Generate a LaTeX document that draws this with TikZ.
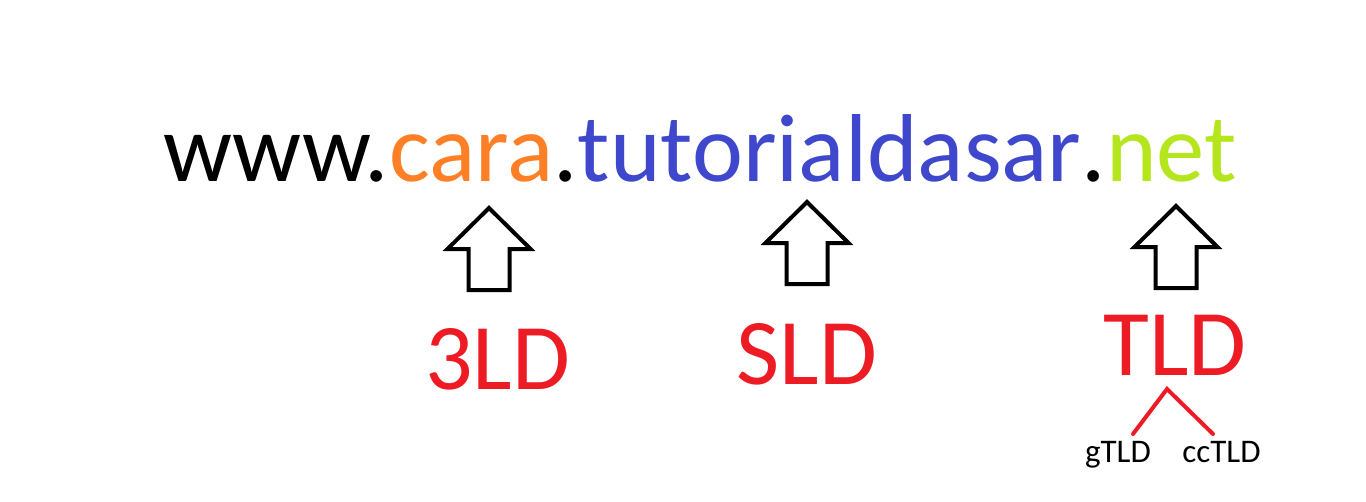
\documentclass[tikz,border=0pt]{standalone}
\usepackage{fontspec}
\setmainfont{Carlito}
\definecolor{pOrange}{HTML}{FF7F27}
\definecolor{pBlue}{HTML}{3F48CC}
\definecolor{pLime}{HTML}{B5E61D}
\definecolor{pRed}{HTML}{ED1C24}
\tikzset{
  url/.style={inner sep=0pt, anchor=base, font=\fontsize{96.5}{96.5}\selectfont},
  lvl/.style={inner sep=0pt, anchor=base, text=pRed, font=\fontsize{94}{94}\selectfont},
  sub/.style={inner sep=0pt, anchor=base, text=black, font=\fontsize{33}{33}\selectfont},
  blockarrow/.style={draw=black, line width=4pt, line join=miter, fill=white},
  branch/.style={draw=pRed, line width=4pt, line cap=round},
  pics/uparrow/.style={code={
    \draw[blockarrow] (0,0) -- (41.5,41) -- (20.5,41) -- (20.5,82) -- (-20.5,82)
      -- (-20.5,41) -- (-41.5,41) -- cycle;
  }}
}
\begin{document}
\begin{tikzpicture}[x=1pt,y=-1pt]
\useasboundingbox (0,0) rectangle (1366,501);
\node[url] (address) at (700,181) {www.\textcolor{pOrange}{cara}.\textcolor{pBlue}{tutorialdasar}.\textcolor{pLime}{net}};
\pic (a1) at (489,208) {uparrow};
\pic (a2) at (807,202) {uparrow};
\pic (a3) at (1176,206) {uparrow};
\node[lvl] (third) at (497.5,389) {3LD};
\node[lvl] (second) at (807,384) {SLD};
\node[lvl] (top) at (1175,375) {TLD};
\node[sub] (gtld) at (1118,462) {gTLD};
\node[sub] (cctld) at (1221.5,462) {ccTLD};
\coordinate (apex) at (1167,389);
\coordinate (gend) at (1133,434);
\coordinate (ccend) at (1213,434);
\draw[branch] (gend) -- (apex) -- (ccend);
\end{tikzpicture}
\end{document}
